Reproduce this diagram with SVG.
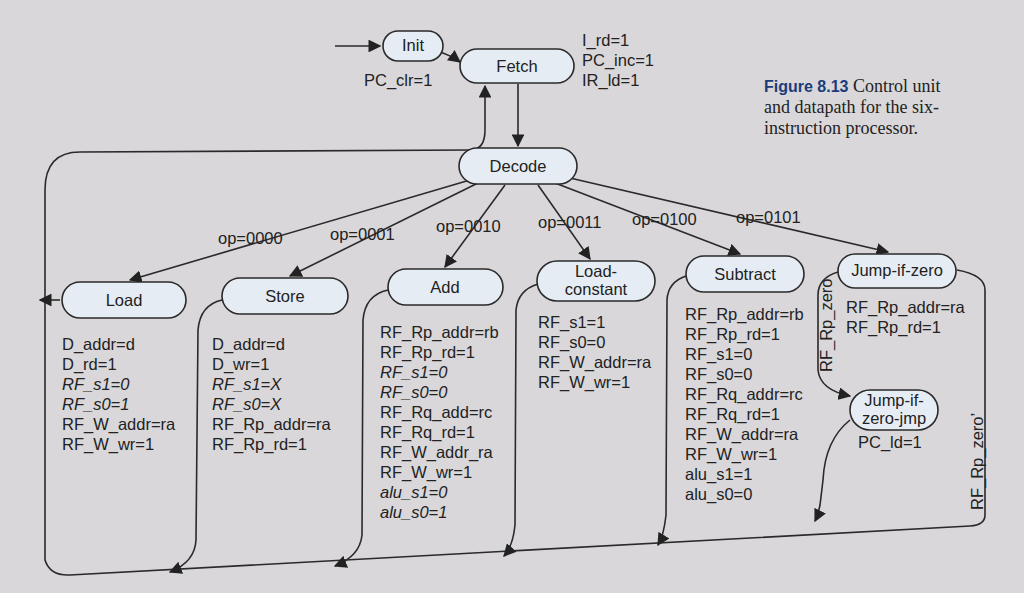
<svg xmlns="http://www.w3.org/2000/svg" width="1024" height="593" viewBox="0 0 1024 593">
<defs>
<marker id="ah" viewBox="0 0 10 10" refX="9" refY="5" markerWidth="8" markerHeight="8" orient="auto"><path d="M0,0 L10,5 L0,10 z" fill="#222"/></marker>
<style>
.n{fill:#e6ecf4;stroke:#2a2a2a;stroke-width:1.6}
.t{font-family:"Liberation Sans",Arial,sans-serif;font-size:16.5px;fill:#222}
.l{fill:none;stroke:#2a2a2a;stroke-width:1.6}
.i{font-style:italic}
.c{font-family:"Liberation Serif","Times New Roman",serif;font-size:18px;fill:#222}
</style>
</defs>
<rect width="1024" height="593" fill="#d9d7da"/>
<g id="connectors">
<path class="l" d="M335,46 L380,46" marker-end="url(#ah)"/>
<path class="l" d="M440,52 Q452,56 460,62" marker-end="url(#ah)"/>
<path class="l" d="M518,84 L518,146" marker-end="url(#ah)"/>
<path class="l" d="M470,180 L130,280" marker-end="url(#ah)"/>
<path class="l" d="M478,183 L290,276" marker-end="url(#ah)"/>
<path class="l" d="M505,185 L445,267" marker-end="url(#ah)"/>
<path class="l" d="M538,185 L590,259" marker-end="url(#ah)"/>
<path class="l" d="M555,183 L740,254" marker-end="url(#ah)"/>
<path class="l" d="M570,178 L888,252" marker-end="url(#ah)"/>
<path class="l" d="M985,290 Q985,275 957,270 M985,290 L985,515 Q985,525 970,526 L70,575 Q50,576 45,560 L45,190 Q45,152 80,152 L470,150 Q485,150 485,130 L485,86" marker-end="url(#ah)"/>
<path class="l" d="M60,300 L40,300" marker-end="url(#ah)"/>
<path class="l" d="M222,300 Q200,305 198,330 L196,540 Q195,562 170,572" marker-end="url(#ah)"/>
<path class="l" d="M388,290 Q365,295 363,320 L362,535 Q360,556 335,566" marker-end="url(#ah)"/>
<path class="l" d="M538,284 Q518,290 516,310 L515,525 Q513,546 504,556" marker-end="url(#ah)"/>
<path class="l" d="M686,276 Q668,282 667,300 L666,515 Q664,535 658,545" marker-end="url(#ah)"/>
<path class="l" d="M838,272 Q818,278 818,295 L818,370 Q820,390 850,396" marker-end="url(#ah)"/>
<path class="l" d="M850,420 Q825,440 823,480 L820,505 Q818,515 815,521" marker-end="url(#ah)"/>
</g>
<g id="edge-labels" class="t">
<text x="218" y="244">op=0000</text>
<text x="330" y="240">op=0001</text>
<text x="436" y="232">op=0010</text>
<text x="538" y="228">op=0011</text>
<text x="632" y="225">op=0100</text>
<text x="736" y="223">op=0101</text>
<text transform="translate(832,372) rotate(-90)">RF_Rp_zero</text>
<text transform="translate(983,510) rotate(-90)">RF_Rp_zero’</text>
</g>
<g id="init"><rect class="n" x="383" y="31" width="60" height="30" rx="15"/><text class="t" x="413" y="51" text-anchor="middle">Init</text><text class="t" x="364" y="86">PC_clr=1</text></g>
<g id="fetch"><rect class="n" x="460" y="49" width="114" height="34" rx="17"/><text class="t" x="517" y="72" text-anchor="middle">Fetch</text><text class="t" x="582" y="46">I_rd=1</text><text class="t" x="582" y="66">PC_inc=1</text><text class="t" x="582" y="86">IR_ld=1</text></g>
<g id="decode"><rect class="n" x="459" y="148" width="118" height="36" rx="18"/><text class="t" x="518" y="172" text-anchor="middle">Decode</text></g>
<g id="load"><rect class="n" x="62" y="282" width="124" height="36" rx="18"/><text class="t" x="124" y="306" text-anchor="middle">Load</text>
<text class="t" x="62" y="350">D_addr=d</text><text class="t" x="62" y="370">D_rd=1</text><text class="t i" x="62" y="390">RF_s1=0</text><text class="t i" x="62" y="410">RF_s0=1</text><text class="t" x="62" y="430">RF_W_addr=ra</text><text class="t" x="62" y="450">RF_W_wr=1</text></g>
<g id="store"><rect class="n" x="222" y="278" width="126" height="36" rx="18"/><text class="t" x="285" y="302" text-anchor="middle">Store</text>
<text class="t" x="212" y="350">D_addr=d</text><text class="t" x="212" y="370">D_wr=1</text><text class="t i" x="212" y="390">RF_s1=X</text><text class="t i" x="212" y="410">RF_s0=X</text><text class="t" x="212" y="430">RF_Rp_addr=ra</text><text class="t" x="212" y="450">RF_Rp_rd=1</text></g>
<g id="add"><rect class="n" x="388" y="269" width="115" height="36" rx="18"/><text class="t" x="445" y="293" text-anchor="middle">Add</text>
<text class="t" x="380" y="338">RF_Rp_addr=rb</text><text class="t" x="380" y="358">RF_Rp_rd=1</text><text class="t i" x="380" y="378">RF_s1=0</text><text class="t i" x="380" y="398">RF_s0=0</text><text class="t" x="380" y="418">RF_Rq_add=rc</text><text class="t" x="380" y="438">RF_Rq_rd=1</text><text class="t" x="380" y="458">RF_W_addr_ra</text><text class="t" x="380" y="478">RF_W_wr=1</text><text class="t i" x="380" y="498">alu_s1=0</text><text class="t i" x="380" y="518">alu_s0=1</text></g>
<g id="loadconst"><rect class="n" x="537" y="261" width="118" height="40" rx="20"/><text class="t" x="596" y="277" text-anchor="middle">Load-</text><text class="t" x="596" y="295" text-anchor="middle">constant</text>
<text class="t" x="538" y="328">RF_s1=1</text><text class="t" x="538" y="348">RF_s0=0</text><text class="t" x="538" y="368">RF_W_addr=ra</text><text class="t" x="538" y="388">RF_W_wr=1</text></g>
<g id="subtract"><rect class="n" x="686" y="256" width="118" height="36" rx="18"/><text class="t" x="745" y="280" text-anchor="middle">Subtract</text>
<text class="t" x="685" y="320">RF_Rp_addr=rb</text><text class="t" x="685" y="340">RF_Rp_rd=1</text><text class="t" x="685" y="360">RF_s1=0</text><text class="t" x="685" y="380">RF_s0=0</text><text class="t" x="685" y="400">RF_Rq_addr=rc</text><text class="t" x="685" y="420">RF_Rq_rd=1</text><text class="t" x="685" y="440">RF_W_addr=ra</text><text class="t" x="685" y="460">RF_W_wr=1</text><text class="t" x="685" y="480">alu_s1=1</text><text class="t" x="685" y="500">alu_s0=0</text></g>
<g id="jz"><rect class="n" x="838" y="254" width="118" height="34" rx="17"/><text class="t" x="897" y="276" text-anchor="middle">Jump-if-zero</text>
<text class="t" x="846" y="313">RF_Rp_addr=ra</text><text class="t" x="846" y="333">RF_Rp_rd=1</text></g>
<g id="jzjmp"><rect class="n" x="850" y="390" width="88" height="40" rx="20"/><text class="t" x="894" y="406" font-size="15" text-anchor="middle">Jump-if-</text><text class="t" x="894" y="424" font-size="15" text-anchor="middle">zero-jmp</text><text class="t" x="858" y="448">PC_ld=1</text></g>
<g id="caption" class="c"><text x="764" y="92"><tspan font-weight="bold" font-family="Liberation Sans,Arial,sans-serif" font-size="16" fill="#1a3d7a">Figure 8.13</tspan> Control unit</text><text x="764" y="113">and datapath for the six-</text><text x="764" y="134">instruction processor.</text></g>
</svg>
